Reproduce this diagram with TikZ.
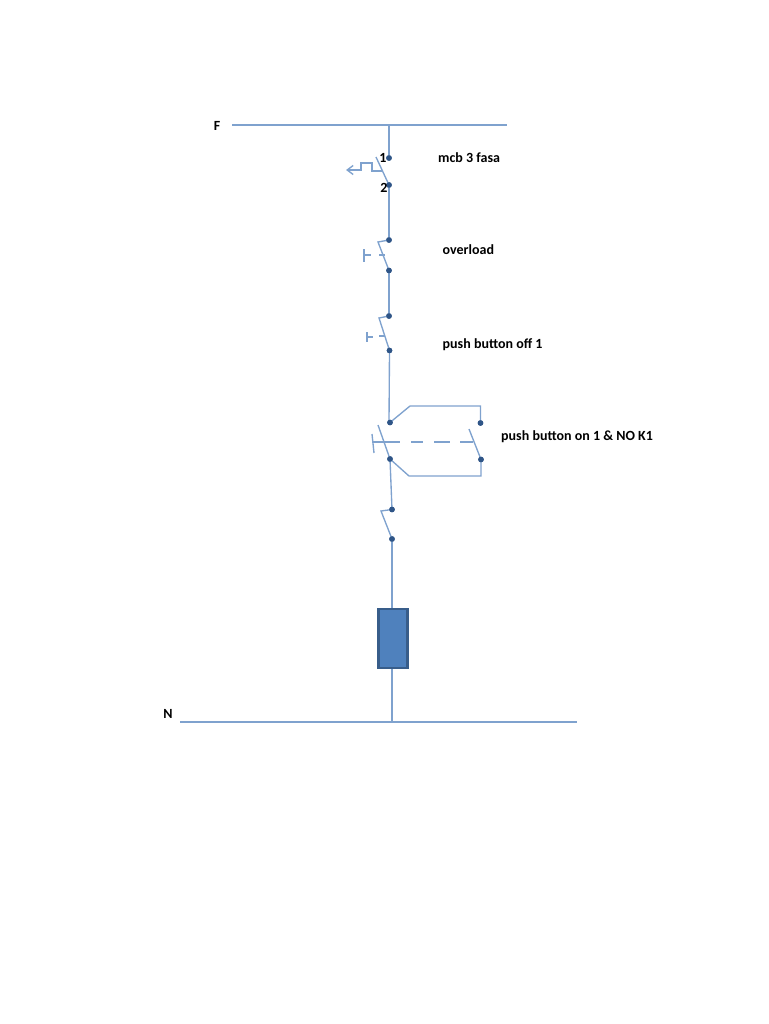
\documentclass[tikz,border=0pt]{standalone}
\usepackage{fontspec}
\setmainfont{Carlito}
\usetikzlibrary{arrows.meta}
\definecolor{wire}{HTML}{7FA2CE}
\definecolor{dotc}{HTML}{2F5587}
\definecolor{coilf}{HTML}{4F81BD}
\definecolor{coild}{HTML}{385D8A}
\tikzset{
  x=1pt,y=-1pt,
  wireline/.style={draw=wire,line width=1.35pt},
  term/.style={circle,fill=dotc,inner sep=0pt,minimum size=5.6pt},
  lab/.style={font=\bfseries\fontsize{14}{16}\selectfont,text=black,inner sep=0pt},
  coil/.style={draw=coild,fill=coilf,line width=2.2pt,minimum width=29pt,minimum height=59pt,inner sep=0pt}
}
\begin{document}
\begin{tikzpicture}
\useasboundingbox (0,0) rectangle (768,1024);
% bus coordinates
\coordinate (fL) at (232,125);
\coordinate (fR) at (507,125);
\coordinate (fT) at (389,125);
\coordinate (nL) at (180,722);
\coordinate (nR) at (577,722);
\coordinate (nT) at (392,722);
% terminals
\node[term] (a1) at (389,158) {};
\node[term] (a2) at (389,185) {};
\node[term] (b1) at (389,240) {};
\node[term] (b2) at (389,270.5) {};
\node[term] (c1) at (389,316) {};
\node[term] (c2) at (389.5,350.5) {};
\node[term] (d1) at (390,422.5) {};
\node[term] (d2) at (390,459) {};
\node[term] (e1) at (480.5,423) {};
\node[term] (e2) at (481,459.5) {};
\node[term] (g1) at (392,509.5) {};
\node[term] (g2) at (392,539) {};
\node[coil] (k) at (393,638.5) {};
% wires
\draw[wireline] (fL) -- (fR);
\draw[wireline] (nL) -- (nR);
\draw[wireline] (fT) -- (a1.center);
\draw[wireline] (a2.center) -- (b1.center);
\draw[wireline] (b2.center) -- (c1.center);
\draw[wireline] (c2.center) -- (389,422) -- (d1.center);
\draw[wireline] (d1.center) -- (410,406) -- (480.5,406) -- (e1.center);
\draw[wireline] (d2.center) -- (409,476) -- (481,476) -- (e2.center);
\draw[wireline] (d2.center) -- (g1.center);
\draw[wireline] (g2.center) -- (k.north -| g2);
\draw[wireline] (k.south -| g2) -- (nT);
% mcb
\draw[wireline] (376,157) -- (a2.center);
\draw[wireline,-{Straight Barb[length=6pt,width=9pt]}] (383,171) -- (372,171) -- (372,163) -- (361,163) -- (361,170) -- (346,170);
% overload
\draw[wireline] (b1.center) -- (378,242) -- (b2.center);
\draw[wireline] (379,255) -- (385,255);
\draw[wireline] (364,249) -- (364,262);
\draw[wireline] (364,255) -- (371,255);
% push off
\draw[wireline] (c1.center) -- (379,318) -- (c2.center);
\draw[wireline] (379,336) -- (385,336);
\draw[wireline] (367,332) -- (367,342);
\draw[wireline] (367,337) -- (373,337);
% push on
\draw[wireline] (378,425) -- (d2.center);
\draw[wireline] (469,429) -- (e2.center);
\draw[wireline] (372,434) -- (374,453);
\draw[wireline] (372,442) -- (400,442);
\draw[wireline] (411,442) -- (423,442);
\draw[wireline] (434,442) -- (450,442);
\draw[wireline] (460,442) -- (473,442);
% K1 contact
\draw[wireline] (g1.center) -- (381,511) -- (g2.center);
% redraw terminals above wires
\foreach \t in {a1,a2,b1,b2,c1,c2,d1,d2,e1,e2,g1,g2} \fill[dotc] (\t) circle (2.8pt);
% labels
\node[lab] (tF) at (217,126) {F};
\node[lab] (tN) at (168,714) {N};
\node[lab] (t1) at (383,158) {1};
\node[lab] (t2) at (384,188) {2};
\node[lab,anchor=west] (tm) at (438,157.5) {mcb 3 fasa};
\node[lab,anchor=west] (to) at (442.5,249.5) {overload};
\node[lab,anchor=west] (tp) at (442.5,344.5) {push button off 1};
\node[lab,anchor=west] (tq) at (501,436.5) {push button on 1 \& NO K1};
\end{tikzpicture}
\end{document}
